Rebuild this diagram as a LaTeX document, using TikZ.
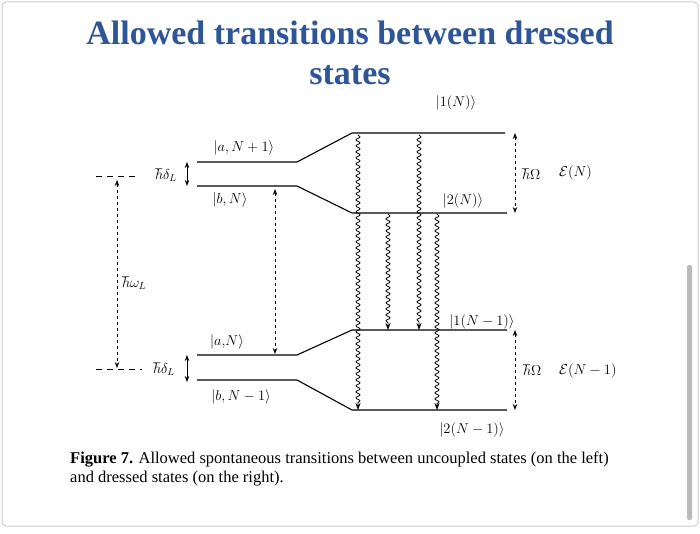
\documentclass[tikz,border=0pt]{standalone}
\usepackage{fontspec}
\setmainfont{Liberation Serif}
\usetikzlibrary{decorations.pathmorphing,arrows.meta}
\definecolor{titleblue}{HTML}{2E5597}
\begin{document}
\begin{tikzpicture}[x=1pt,y=-1pt,
  lvl/.style={line width=1.1pt},
  wav/.style={decorate,decoration={snake,segment length=6pt,amplitude=2pt,post length=6pt},-{Stealth[length=7pt,width=5pt]},line width=0.8pt},
  dar/.style={dashed,{Stealth[length=6pt,width=4.5pt]}-{Stealth[length=6pt,width=4.5pt]},line width=0.8pt},
  lab/.style={font=\fontsize{14}{16}\selectfont,inner sep=0pt}]
\useasboundingbox (0,0) rectangle (700,534);
\draw[gray!40,line width=1pt,rounded corners=4pt] (2,2) rectangle (698,526);
\fill[gray!55,rounded corners=2pt] (687,265) rectangle (692,520);
\node[text=titleblue,font=\bfseries\fontsize{34}{40}\selectfont,align=center] (title) at (350,53) {Allowed transitions between dressed\\states};
% levels
\coordinate (aN1l) at (197,162); \coordinate (aN1r) at (297,162);
\coordinate (bNl) at (197,186); \coordinate (bNr) at (297,186);
\coordinate (aNl) at (197,355); \coordinate (aNr) at (297,355);
\coordinate (bN1l) at (197,380); \coordinate (bN1r) at (297,380);
\coordinate (u1l) at (352,133); \coordinate (u1r) at (505,133);
\coordinate (u2l) at (352,213); \coordinate (u2r) at (507,213);
\coordinate (d1l) at (352,330); \coordinate (d1r) at (507,330);
\coordinate (d2l) at (352,410); \coordinate (d2r) at (507,410);
\draw[lvl] (aN1l)--(aN1r)--(u1l)--(u1r);
\draw[lvl] (bNl)--(bNr)--(u2l)--(u2r);
\draw[lvl] (aNl)--(aNr)--(d1l)--(d1r);
\draw[lvl] (bN1l)--(bN1r)--(d2l)--(d2r);
% left dashed
\coordinate (h1a) at (96,176); \coordinate (h1b) at (138,176);
\coordinate (h2a) at (96,369); \coordinate (h2b) at (142,369);
\draw[dashed,dash pattern=on 6pt off 5pt,line width=0.8pt] (h1a)--(h1b);
\draw[dashed,dash pattern=on 6pt off 5pt,line width=0.8pt] (h2a)--(h2b);
\coordinate (wt) at (117,180); \coordinate (wb) at (117,368);
\draw[dar] (wt)--(wb);
\node[lab,anchor=west] (wl) at (122,283) {$\hbar\omega_L$};
\coordinate (d1t) at (187,162); \coordinate (d1b) at (187,186);
\coordinate (d2t) at (187,355); \coordinate (d2b) at (187,382);
\draw[{Stealth[length=6pt,width=4.5pt]}-{Stealth[length=6pt,width=4.5pt]},line width=0.8pt] (d1t)--(d1b);
\draw[{Stealth[length=6pt,width=4.5pt]}-{Stealth[length=6pt,width=4.5pt]},line width=0.8pt] (d2t)--(d2b);
\node[lab] (dl1) at (166,175) {$\hbar\delta_L$};
\node[lab] (dl2) at (164,369) {$\hbar\delta_L$};
\coordinate (mt) at (275,189); \coordinate (mb) at (275,354);
\draw[dar] (mt)--(mb);
% wavy
\coordinate (w1t) at (358,135); \coordinate (w1b) at (358,410);
\coordinate (w2t) at (419,135); \coordinate (w2b) at (419,330);
\coordinate (w3t) at (388,214); \coordinate (w3b) at (388,330);
\coordinate (w4t) at (437,214); \coordinate (w4b) at (437,410);
\draw[wav] (w1t)--(w1b);
\draw[wav] (w2t)--(w2b);
\draw[wav] (w3t)--(w3b);
\draw[wav] (w4t)--(w4b);
% right
\coordinate (r1t) at (515,133); \coordinate (r1b) at (515,213);
\coordinate (r2t) at (515,330); \coordinate (r2b) at (515,410);
\draw[dar] (r1t)--(r1b);
\draw[dar] (r2t)--(r2b);
\node[lab,anchor=west] (o1) at (522,174) {$\hbar\Omega$};
\node[lab,anchor=west] (o2) at (523,370) {$\hbar\Omega$};
\node[lab,anchor=west] (e1) at (559,173) {$\mathcal{E}(N)$};
\node[lab,anchor=west] (e2) at (559,371) {$\mathcal{E}(N-1)$};
% state labels
\node[lab] (s1) at (456,103) {$|1(N)\rangle$};
\node[lab] (s2) at (463,201) {$|2(N)\rangle$};
\node[lab] (s3) at (482,322) {$|1(N-1)\rangle$};
\node[lab] (s4) at (472,430) {$|2(N-1)\rangle$};
\node[lab] (a1) at (244,148) {$|a,N+1\rangle$};
\node[lab] (b1) at (230,200) {$|b,N\rangle$};
\node[lab] (a2) at (227,342) {$|a{,}N\rangle$};
\node[lab] (b2) at (241,397) {$|b,N-1\rangle$};
\node[anchor=north west,align=left,font=\fontsize{16.5}{19}\selectfont,inner sep=0pt] (cap) at (70,452) {\textbf{Figure 7.} Allowed spontaneous transitions between uncoupled states (on the left)\\and dressed states (on the right).};
\end{tikzpicture}
\end{document}
